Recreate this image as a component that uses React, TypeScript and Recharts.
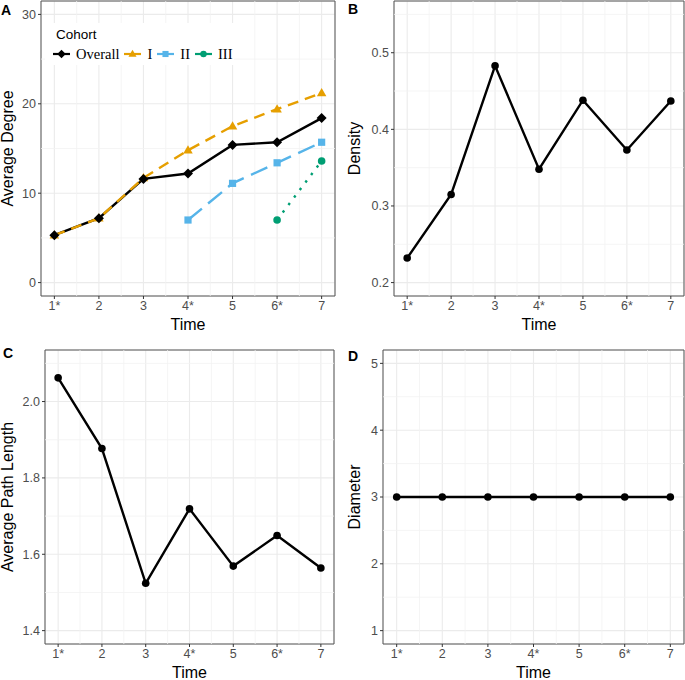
import React from 'react';
import {
  LineChart, Line, XAxis, YAxis, CartesianGrid, Legend, ReferenceLine, ReferenceArea,
} from 'recharts';

// time points (* = data collection wave)
const timeLabels = ['1*', '2', '3', '4*', '5', '6*', '7'];
const timeIdx = [1, 2, 3, 4, 5, 6, 7];
const timeMinor = [1.5, 2.5, 3.5, 4.5, 5.5, 6.5];

// A: average degree
const degreeOverall = [5.3, 7.2, 11.6, 12.2, 15.4, 15.7, 18.4];
const degreeI = [5.3, 7.2, 11.7, 14.8, 17.5, 19.4, 21.2];
const degreeII = [null, null, null, 7.0, 11.1, 13.4, 15.7];
const degreeIII = [null, null, null, null, null, 7.0, 13.6];
const degreeTicks = [0, 10, 20, 30];
const degreeMinor = [5, 15, 25];

// B: density
const density = [0.232, 0.315, 0.483, 0.348, 0.438, 0.373, 0.437];
const densityTicks = [0.2, 0.3, 0.4, 0.5];
const densityMinor = [0.25, 0.35, 0.45, 0.55];

// C: average path length
const pathLength = [2.062, 1.877, 1.524, 1.719, 1.569, 1.649, 1.564];
const pathTicks = [1.4, 1.6, 1.8, 2.0];
const pathMinor = [1.5, 1.7, 1.9, 2.1];

// D: diameter
const diameter = [3, 3, 3, 3, 3, 3, 3];
const diameterTicks = [1, 2, 3, 4, 5];
const diameterMinor = [1.5, 2.5, 3.5, 4.5];

const cohorts = [
  { key: 'overall', name: 'Overall', color: '#000000', dash: undefined, shape: 'diamond' },
  { key: 'I', name: 'I', color: '#E69F00', dash: '11 7', shape: 'triangle' },
  { key: 'II', name: 'II', color: '#56B4E9', dash: '18 8', shape: 'square' },
  { key: 'III', name: 'III', color: '#009E73', dash: '2.4 7', shape: 'circle' },
];

const degreeRows = timeIdx.map((t, i) => ({
  t, overall: degreeOverall[i], I: degreeI[i], II: degreeII[i], III: degreeIII[i],
}));
const densityRows = timeIdx.map((t, i) => ({ t, v: density[i] }));
const pathRows = timeIdx.map((t, i) => ({ t, v: pathLength[i] }));
const diameterRows = timeIdx.map((t, i) => ({ t, v: diameter[i] }));

const SANS = "'Liberation Sans', Arial, sans-serif";
const SERIF = "'Liberation Serif', 'Times New Roman', serif";
const GRID = '#EBEBEB';
const MINOR = '#F3F3F3';
const BORDER = '#555555';
const X_DOMAIN: [number, number] = [0.7, 7.3];

function Marker({ shape, cx, cy, color, s = 1 }: any) {
  if (cx == null || cy == null) return null;
  if (shape === 'diamond') {
    const r = 5 * s;
    return <polygon points={`${cx},${cy - r} ${cx + r},${cy} ${cx},${cy + r} ${cx - r},${cy}`} fill={color} />;
  }
  if (shape === 'triangle') {
    const r = 5 * s;
    return <polygon points={`${cx},${cy - r} ${cx + r * 0.95},${cy + r * 0.65} ${cx - r * 0.95},${cy + r * 0.65}`} fill={color} />;
  }
  if (shape === 'square') {
    const h = 3.6 * s;
    return <rect x={cx - h} y={cy - h} width={h * 2} height={h * 2} fill={color} />;
  }
  return <circle cx={cx} cy={cy} r={3.8 * s} fill={color} />;
}

const dotRenderer = (shape: string, color: string, s = 1) => (props: any) => {
  const { cx, cy, index, value } = props;
  if (value == null || cy == null || Number.isNaN(cy)) return <g key={`e-${index}`} />;
  return <Marker key={`m-${index}`} shape={shape} cx={cx} cy={cy} color={color} s={s} />;
};

function CohortLegend() {
  return (
    <div style={{ background: '#fff', width: 189, height: 42, position: 'relative', fontFamily: SANS }}>
      <div style={{ position: 'absolute', left: 11, top: 5, fontSize: 13.5, lineHeight: '14px', color: '#000' }}>Cohort</div>
      <div style={{ position: 'absolute', left: 8, top: 24, display: 'flex', alignItems: 'center', height: 14 }}>
        {cohorts.map(c => (
          <div key={c.key} style={{ display: 'flex', alignItems: 'center', marginRight: 5 }}>
            <svg width={17} height={12}>
              <line x1={0} x2={17} y1={6} y2={6} stroke={c.color} strokeWidth={2.2} />
              <Marker shape={c.shape} cx={8.5} cy={6} color={c.color} s={0.85} />
            </svg>
            <span style={{ fontFamily: SERIF, fontSize: 14.5, lineHeight: '14px', marginLeft: 6, color: '#000' }}>{c.name}</span>
          </div>
        ))}
      </div>
    </div>
  );
}

interface PanelProps {
  letter: string;
  left: number;
  top: number;
  width: number;
  height: number;
  margin: { top: number; right: number; bottom: number; left: number };
  yWidth: number;
  xHeight: number;
  yDomain: [number, number];
  yTicks: number[];
  yMinor: number[];
  yFmt: (v: number) => string;
  yLabel: string;
  yLabelDx: number;
  letterPos: { x: number; y: number };
  data: any[];
  children?: React.ReactNode;
}

function Panel(p: PanelProps) {
  return (
    <div style={{ position: 'absolute', left: p.left, top: p.top, width: p.width, height: p.height }}>
      <LineChart width={p.width} height={p.height} data={p.data} margin={p.margin}>
        <CartesianGrid stroke={GRID} strokeWidth={1.1} />
        {timeMinor.map(v => (
          <ReferenceLine key={`vx${v}`} x={v} stroke={MINOR} strokeWidth={0.8} />
        ))}
        {p.yMinor.map(v => (
          <ReferenceLine key={`hy${v}`} y={v} stroke={MINOR} strokeWidth={0.8} />
        ))}
        <XAxis
          dataKey="t"
          type="number"
          domain={X_DOMAIN}
          ticks={timeIdx}
          allowDataOverflow
          height={p.xHeight}
          tickFormatter={(v: number) => timeLabels[v - 1]}
          tick={{ fontSize: 12.5, fill: '#4D4D4D', fontFamily: SANS }}
          tickSize={3}
          tickLine={{ stroke: '#333' }}
          axisLine={false}
          label={{ value: 'Time', position: 'insideTop', offset: 22.5, style: { fontSize: 16, fill: '#000', fontFamily: SANS } }}
        />
        <YAxis
          type="number"
          domain={p.yDomain}
          ticks={p.yTicks}
          allowDataOverflow
          width={p.yWidth}
          tickFormatter={p.yFmt}
          tick={{ fontSize: 12.5, fill: '#4D4D4D', fontFamily: SANS }}
          tickSize={3}
          tickLine={{ stroke: '#333' }}
          axisLine={false}
          label={{ value: p.yLabel, angle: -90, position: 'center', dx: p.yLabelDx, style: { fontSize: 16, fill: '#000', fontFamily: SANS, textAnchor: 'middle' } }}
        />
        {p.children}
        <ReferenceArea
          x1={X_DOMAIN[0]} x2={X_DOMAIN[1]} y1={p.yDomain[0]} y2={p.yDomain[1]}
          fill="none" stroke={BORDER} strokeWidth={1} ifOverflow="visible"
        />
      </LineChart>
      <div style={{
        position: 'absolute', left: p.letterPos.x, top: p.letterPos.y, fontFamily: SANS,
        fontWeight: 700, fontSize: 14, lineHeight: '14px', color: '#000',
      }}>
        {p.letter}
      </div>
    </div>
  );
}

const single = (key: string) => [
  <Line key="l" dataKey={key} stroke="#000" strokeWidth={2.4} dot={false} isAnimationActive={false} />,
  <Line key="d" dataKey={key} stroke="none" dot={dotRenderer('circle', '#000', 1)} activeDot={false} isAnimationActive={false} />,
];

export default function App() {
  return (
    <div style={{ position: 'absolute', left: 0, top: 0, width: 685, height: 680, background: '#fff' }}>
      <Panel
        letter="A" left={0} top={0} width={340} height={340}
        margin={{ top: 1, right: 5, bottom: 4, left: 0 }} yWidth={41} xHeight={40}
        yDomain={[-1.5, 31.5]} yTicks={degreeTicks} yMinor={degreeMinor}
        yFmt={(v) => String(v)} yLabel="Average Degree" yLabelDx={-12.8}
        letterPos={{ x: 1, y: 3 }} data={degreeRows}
      >
        {cohorts.map(c => (
          <Line
            key={`line-${c.key}`} dataKey={c.key} stroke={c.color} strokeWidth={2.4}
            strokeDasharray={c.dash} dot={false} activeDot={false} isAnimationActive={false}
          />
        ))}
        {[...cohorts.slice(1), cohorts[0]].map(c => (
          <Line
            key={`dot-${c.key}`} dataKey={c.key} stroke="none"
            dot={dotRenderer(c.shape, c.color)} activeDot={false} isAnimationActive={false}
          />
        ))}
        <Legend
          layout="horizontal" verticalAlign="middle" align="center"
          wrapperStyle={{ left: 45, top: 23, width: 189, height: 42 }}
          content={() => <CohortLegend />}
        />
      </Panel>
      <Panel
        letter="B" left={340} top={0} width={345} height={340}
        margin={{ top: 1, right: 1, bottom: 4, left: 0 }} yWidth={54} xHeight={40}
        yDomain={[0.1825, 0.5675]} yTicks={densityTicks} yMinor={densityMinor}
        yFmt={(v) => v.toFixed(1)} yLabel="Density" yLabelDx={-12.3}
        letterPos={{ x: 8, y: 2 }} data={densityRows}
      >
        {single('v')}
      </Panel>
      <Panel
        letter="C" left={0} top={340} width={340} height={340}
        margin={{ top: 10, right: 6, bottom: 0, left: 0 }} yWidth={45} xHeight={36}
        yDomain={[1.365, 2.135]} yTicks={pathTicks} yMinor={pathMinor}
        yFmt={(v) => v.toFixed(1)} yLabel="Average Path Length" yLabelDx={-14.8}
        letterPos={{ x: 3, y: 6 }} data={pathRows}
      >
        {single('v')}
      </Panel>
      <Panel
        letter="D" left={340} top={340} width={345} height={340}
        margin={{ top: 10, right: 1, bottom: 0, left: 0 }} yWidth={43} xHeight={36}
        yDomain={[0.8, 5.2]} yTicks={diameterTicks} yMinor={diameterMinor}
        yFmt={(v) => String(v)} yLabel="Diameter" yLabelDx={-6.8}
        letterPos={{ x: 8, y: 9 }} data={diameterRows}
      >
        {single('v')}
      </Panel>
    </div>
  );
}
